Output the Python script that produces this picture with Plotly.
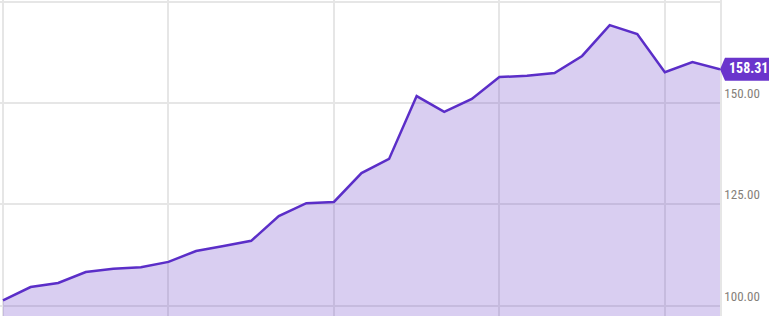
import plotly.graph_objects as go

# Data
period_index = list(range(27))
price_values = [101.3, 104.6, 105.6, 108.3, 109.1, 109.5, 110.8, 113.5, 114.7, 116.0,
                122.1, 125.3, 125.6, 132.7, 136.2, 151.7, 147.8, 151.0, 156.4, 156.7,
                157.4, 161.6, 169.2, 167.0, 157.6, 160.1, 158.31]
y_tick_values = [100, 125, 150, 175]
y_tick_labels = ["100.00", "125.00", "150.00", ""]

LINE = "#5b2ec8"
FILL = "rgba(104,58,200,0.25)"
GRID = "#e6e6e6"
LABEL_FONT = "Liberation Sans Narrow, Roboto Condensed, Arial Narrow, Roboto, sans-serif"

fig = go.Figure()
fig.add_trace(go.Scatter(
    x=period_index, y=price_values, mode="lines",
    line=dict(color=LINE, width=2.5),
    fill="tozeroy", fillcolor=FILL,
    hoverinfo="skip", showlegend=False,
))

last_x = period_index[-1]
last_y = price_values[-1]

# last-value pointer badge (pixel-sized, anchored at last point)
fig.add_shape(
    type="path", xref="paper", yref="y",
    xsizemode="pixel", ysizemode="pixel",
    xanchor=1, yanchor=last_y,
    path="M 0 0 L 5 11.5 L 49 11.5 L 49 -11.5 L 5 -11.5 Z",
    fillcolor="#6a35cc", line=dict(width=0), layer="above",
)
fig.add_annotation(
    xref="paper", yref="y", x=1, y=last_y, xanchor="left", yanchor="middle",
    xshift=7, yshift=1,
    text=f"<b>{last_y:.2f}</b>", showarrow=False,
    font=dict(family=LABEL_FONT, size=14, color="white"),
)

fig.update_layout(
    width=776, height=323,
    margin=dict(l=0, r=56, t=0, b=7),
    paper_bgcolor="white", plot_bgcolor="white",
    xaxis=dict(
        range=[-0.109, 26], showticklabels=False, ticks="",
        showgrid=True, gridcolor=GRID, gridwidth=2,
        tick0=0, dtick=6, zeroline=False, showline=False,
    ),
    yaxis=dict(
        range=[97.46, 175.4], side="right",
        tickvals=y_tick_values, ticktext=y_tick_labels,
        ticklabelposition="outside top",
        showgrid=True, gridcolor=GRID, gridwidth=2,
        zeroline=False, showline=True, linecolor=GRID, linewidth=1.5,
        ticks="outside", ticklen=6, tickcolor="rgba(0,0,0,0)",
        tickfont=dict(family=LABEL_FONT, size=13, color="#858079"),
    ),
)

fig.write_html("out.html")
